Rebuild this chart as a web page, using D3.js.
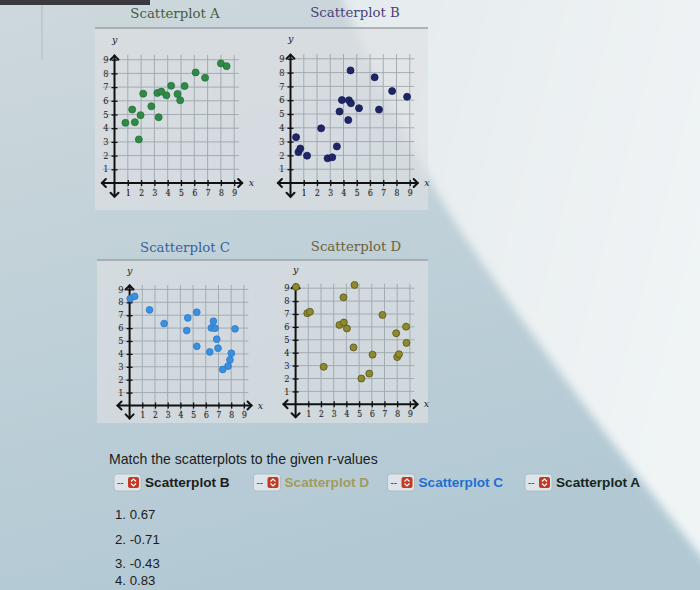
<!DOCTYPE html>
<html><head><meta charset="utf-8">
<script src="https://cdn.jsdelivr.net/npm/d3@7"></script>
<style>html,body{margin:0;padding:0;background:#c6d4da;overflow:hidden}</style>
</head><body>
<svg id="c" width="700" height="590"></svg>
<script>
// ---------- data ----------
const xTicks = [1,2,3,4,5,6,7,8,9];
const yTicks = [1,2,3,4,5,6,7,8,9];
const titles = ["Scatterplot A","Scatterplot B","Scatterplot C","Scatterplot D"];

const aX = [0.82,1.33,1.53,1.83,1.96,2.16,2.77,3.22,3.32,3.52,3.9,4.26,4.74,4.94,5.27,6.1,6.81,8.0,8.43];
const aY = [4.39,5.36,4.44,3.18,4.95,6.52,5.6,6.57,4.8,6.67,6.4,7.1,6.5,6.04,7.08,8.07,7.68,8.73,8.53];

const bX = [0.42,0.6,0.74,1.25,2.31,2.8,3.15,3.5,3.7,3.88,4.36,4.41,4.56,4.53,5.17,6.35,6.68,7.67,8.8];
const bY = [3.32,2.24,2.5,1.98,3.96,1.79,1.86,2.65,5.18,6.01,4.56,5.99,5.78,8.16,5.42,7.66,5.32,6.66,6.25];

const cX = [0.05,0.4,1.57,2.72,4.5,4.58,5.29,5.29,6.31,6.44,6.6,6.73,6.86,6.96,8.01,7.9,7.75,7.33,8.3];
const cY = [8.28,8.46,7.41,6.35,5.81,6.79,7.23,4.59,4.15,6.01,6.53,5.99,5.14,4.44,4.05,3.54,3.05,2.79,5.94];

const dX = [0.03,0.92,1.13,2.21,3.45,3.8,3.77,4.04,4.56,4.64,5.18,5.8,6.06,6.84,7.92,8.0,8.14,8.7,8.73];
const dY = [9.1,7.06,7.17,2.91,6.15,6.34,8.29,5.88,4.41,9.25,2.0,2.38,3.85,6.93,5.51,3.66,3.88,6.02,4.76];

const choices = ["Scatterplot B","Scatterplot D","Scatterplot C","Scatterplot A"];
const rValues = ["0.67","-0.71","-0.43","0.83"];
const prompt = "Match the scatterplots to the given r-values";

// ---------- drawing ----------
const svg = d3.select("#c");
const defs = svg.append("defs");
const bg = defs.append("linearGradient").attr("id","bg").attr("x1",0).attr("y1",0).attr("x2",0.3).attr("y2",1);
bg.append("stop").attr("offset","0%").attr("stop-color","#ced8dc");
bg.append("stop").attr("offset","100%").attr("stop-color","#b2c9d4");
const lg = defs.append("linearGradient").attr("id","lt").attr("x1",0).attr("y1",0).attr("x2",1).attr("y2",0.4);
lg.append("stop").attr("offset","0%").attr("stop-color","#e4ebee");
lg.append("stop").attr("offset","100%").attr("stop-color","#f0f4f5");
defs.append("filter").attr("id","blur").append("feGaussianBlur").attr("stdDeviation",4);

svg.append("rect").attr("width",700).attr("height",590).attr("fill","url(#bg)");
svg.append("path").attr("d","M335,-20 L720,-20 L720,580 Q560,380 460,230 Q390,120 335,-20 Z")
  .attr("fill","url(#lt)").attr("filter","url(#blur)");
svg.append("rect").attr("x",0).attr("y",0).attr("width",150).attr("height",5).attr("fill","#3a3a3e");
svg.append("line").attr("x1",42).attr("x2",42).attr("y1",5).attr("y2",60).attr("stroke","#b0bcc2").attr("stroke-width",1);

// panels
const panels = [{x:95,y:28,w:333,h:182},{x:97,y:260,w:331,h:163}];
panels.forEach(p=>{
  svg.append("rect").attr("x",p.x).attr("y",p.y).attr("width",p.w).attr("height",p.h)
    .attr("fill","rgba(222,225,228,0.62)");
  svg.append("line").attr("x1",p.x).attr("x2",p.x+p.w).attr("y1",p.y).attr("y2",p.y)
    .attr("stroke","#9aa2a8").attr("stroke-width",1.5);
});

const plots = [
  {xs:aX, ys:aY, ox:114.5, oy:183, ux:13.3, uy:13.7, fill:"#2f8a46", stroke:"#23703a", r:3.5, title:titles[0], tx:175, ty:18, tc:"#3f5c44"},
  {xs:bX, ys:bY, ox:290.5, oy:183, ux:13.25, uy:13.8, fill:"#1f2568", stroke:"#161b50", r:3.5, title:titles[1], tx:355, ty:17, tc:"#4a3f78"},
  {xs:cX, ys:cY, ox:129.6, oy:405.5, ux:12.7, uy:12.9, fill:"#3a8fdf", stroke:"#2c7acb", r:3.4, title:titles[2], tx:185, ty:252, tc:"#3a5f9e"},
  {xs:dX, ys:dY, ox:295.6, oy:404.3, ux:12.7, uy:12.9, fill:"#8e8a2c", stroke:"#55521c", r:3.5, title:titles[3], tx:356, ty:251, tc:"#6e6038"}
];

plots.forEach(p=>{
  const x = d3.scaleLinear().domain([0,9]).range([p.ox, p.ox+9*p.ux]);
  const y = d3.scaleLinear().domain([0,9]).range([p.oy, p.oy-9*p.uy]);
  const g = svg.append("g");
  svg.append("text").attr("x",p.tx).attr("y",p.ty).attr("text-anchor","middle")
    .attr("font-family","DejaVu Serif, Liberation Serif, serif").attr("font-size",13.3)
    .attr("fill",p.tc).text(p.title);
  g.selectAll(".vg").data(xTicks).join("line")
    .attr("x1",d=>x(d)).attr("x2",d=>x(d)).attr("y1",y(-0.9)).attr("y2",y(9.35))
    .attr("stroke","#9ea7ae").attr("stroke-width",0.9);
  g.selectAll(".hg").data(yTicks).join("line")
    .attr("y1",d=>y(d)).attr("y2",d=>y(d)).attr("x1",x(-0.9)).attr("x2",x(9.35))
    .attr("stroke","#9ea7ae").attr("stroke-width",0.9);
  const xa = d3.axisBottom(x).tickValues(xTicks).tickSize(3).tickSizeOuter(0).tickPadding(4);
  const ya = d3.axisLeft(y).tickValues(yTicks).tickSize(3).tickSizeOuter(0).tickPadding(3);
  const gx = g.append("g").attr("transform",`translate(0,${p.oy})`).call(xa);
  const gy = g.append("g").attr("transform",`translate(${p.ox},0)`).call(ya);
  [gx,gy].forEach(a=>{
    a.select(".domain").remove();
    a.selectAll(".tick line").attr("stroke","#111").attr("stroke-width",1.3);
    a.selectAll(".tick text").attr("font-family","DejaVu Serif, serif").attr("font-size",8.3).attr("fill","#222");
  });
  gx.selectAll(".tick line").attr("y1",-3);
  gy.selectAll(".tick line").attr("x1",3);
  const ax = g.append("g").attr("stroke","#111").attr("stroke-width",2).attr("fill","none").attr("stroke-linecap","round");
  ax.append("line").attr("x1",x(-0.95)).attr("x2",x(9.6)).attr("y1",p.oy).attr("y2",p.oy);
  ax.append("line").attr("y1",y(-1.0)).attr("y2",y(9.3)).attr("x1",p.ox).attr("x2",p.ox);
  const ah = 4;
  ax.append("path").attr("d",`M${x(9.6)-ah},${p.oy-ah} L${x(9.6)},${p.oy} L${x(9.6)-ah},${p.oy+ah}`);
  ax.append("path").attr("d",`M${x(-0.95)+ah},${p.oy-ah} L${x(-0.95)},${p.oy} L${x(-0.95)+ah},${p.oy+ah}`);
  ax.append("path").attr("d",`M${p.ox-ah},${y(9.3)+ah} L${p.ox},${y(9.3)} L${p.ox+ah},${y(9.3)+ah}`);
  ax.append("path").attr("d",`M${p.ox-ah},${y(-1.0)-ah} L${p.ox},${y(-1.0)} L${p.ox+ah},${y(-1.0)-ah}`);
  g.append("text").attr("x",x(10.1)).attr("y",p.oy+3).attr("font-family","DejaVu Serif, serif")
    .attr("font-style","italic").attr("font-size",9.5).attr("fill","#222").text("x");
  g.append("text").attr("x",p.ox-2.5).attr("y",y(10.2)).attr("font-family","DejaVu Serif, serif")
    .attr("font-style","italic").attr("font-size",9.5).attr("fill","#222").text("y");
  g.selectAll("circle").data(p.xs.map((v,i)=>[v,p.ys[i]])).join("circle")
    .attr("cx",d=>x(d[0])).attr("cy",d=>y(d[1])).attr("r",p.r)
    .attr("fill",p.fill).attr("stroke",p.stroke).attr("stroke-width",0.8);
});

const sans = "Liberation Sans, Arial, Helvetica, sans-serif";
svg.append("text").attr("x",109).attr("y",464).attr("font-family",sans).attr("font-size",14.1)
  .attr("fill","#1c1c1c").text(prompt);

const btnX = [114,253.5,387.5,525];
const btnCol = ["#1c1c1c","#a19b5c","#1f6fd0","#17261a"];
choices.forEach((c,i)=>{
  const bx = btnX[i];
  const b = svg.append("g");
  b.append("rect").attr("x",bx).attr("y",474).attr("width",27).attr("height",17).attr("rx",3)
    .attr("fill","#dde5ea").attr("stroke","#aab6bd").attr("stroke-width",0.8);
  b.append("text").attr("x",bx+3).attr("y",486).attr("font-family",sans).attr("font-size",10)
    .attr("fill","#444").text("--");
  b.append("rect").attr("x",bx+14).attr("y",477).attr("width",11).attr("height",11).attr("rx",2)
    .attr("fill","#c23a22");
  b.append("path").attr("d",`M${bx+17},${481.5} L${bx+19.5},${479} L${bx+22},${481.5} M${bx+17},${483.5} L${bx+19.5},${486} L${bx+22},${483.5}`)
    .attr("stroke","#fff").attr("stroke-width",1.2).attr("fill","none");
  svg.append("text").attr("x",bx+31).attr("y",487).attr("font-family",sans).attr("font-size",13.6)
    .attr("font-weight","bold").attr("fill",btnCol[i]).text(c);
});

const listY = [519,544,568,585];
rValues.forEach((r,i)=>{
  svg.append("text").attr("x",115).attr("y",listY[i]).attr("font-family",sans).attr("font-size",13.2)
    .attr("fill","#1c1c1c").text(`${i+1}. ${r}`);
});
</script>
</body></html>
